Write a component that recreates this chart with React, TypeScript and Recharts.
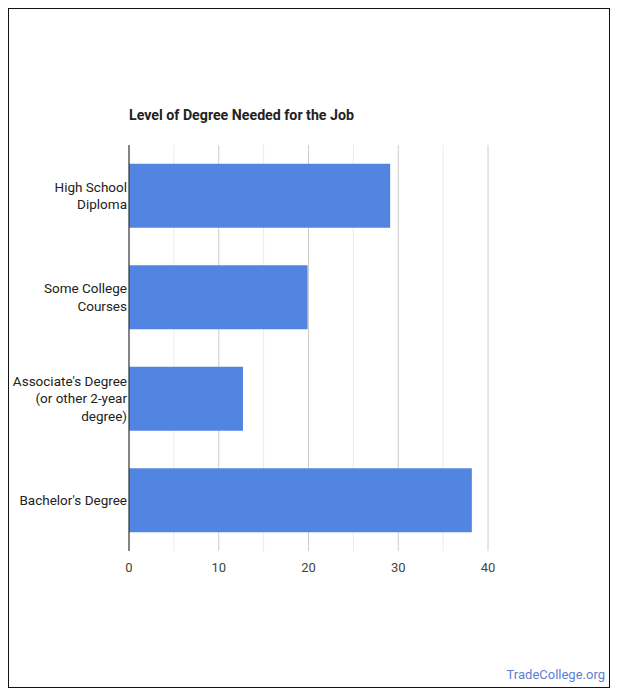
import { Bar, BarChart, CartesianGrid, XAxis, YAxis } from 'recharts';

const categories = ['High School\nDiploma', 'Some College\nCourses', "Associate's Degree\n(or other 2-year\ndegree)", "Bachelor's Degree"];
const values = [29.1, 19.9, 12.7, 38.2];
const xTicks = [0, 10, 20, 30, 40];
const minorTicks = [5, 15, 25, 35];

const data = categories.map((name, i) => ({ name, value: values[i] }));

const font = 'Roboto, Arial, sans-serif';
const xMax = xTicks[xTicks.length - 1];

function CategoryTick(props: any) {
    const { x, y, payload } = props;
    const lines = String(payload.value).split('\n');
    const lh = 17.5;
    const start = y - ((lines.length - 1) * lh) / 2;
    return (
        <text x={x + 6} y={start} textAnchor="end" fontFamily={font} fontSize={13.5} fill="#222">
            {lines.map((line, i) => (
                <tspan key={i} x={x + 6} y={start + i * lh} dy="0.35em">
                    {line}
                </tspan>
            ))}
        </text>
    );
}

// minor gridlines at the half-steps, placed from the plot offset
const minorGrid = (args: any) => {
    const off = args?.offset;
    if (!off) return [];
    return minorTicks.map((t) => off.left + (t / xMax) * off.width);
};

export default function App() {
    return (
        <div style={{ position: 'absolute', left: 0, top: 0, width: 620, height: 698, background: '#fff' }}>
            <div
                style={{
                    position: 'absolute',
                    left: 8,
                    top: 8,
                    width: 600,
                    height: 678,
                    border: '1.5px solid #111',
                }}
            />
            <div
                style={{
                    position: 'absolute',
                    left: 129,
                    top: 107,
                    fontFamily: font,
                    fontWeight: 700,
                    fontSize: 14.2,
                    color: '#222',
                }}
            >
                Level of Degree Needed for the Job
            </div>
            <div style={{ position: 'absolute', left: 0, top: 0 }}>
                <BarChart
                    width={620}
                    height={698}
                    data={data}
                    layout="vertical"
                    margin={{ top: 145, right: 132, bottom: 117, left: 0 }}
                    barCategoryGap="18.5%"
                >
                    <CartesianGrid horizontal={false} stroke="#ebebeb" verticalCoordinatesGenerator={minorGrid} />
                    <CartesianGrid horizontal={false} stroke="#cccccc" />
                    <XAxis
                        type="number"
                        domain={[0, xMax]}
                        ticks={xTicks}
                        axisLine={false}
                        tickLine={false}
                        tickMargin={6}
                        tick={{ fontFamily: font, fontSize: 13, fill: '#444' }}
                        height={30}
                    />
                    <YAxis
                        type="category"
                        dataKey="name"
                        width={129}
                        axisLine={{ stroke: '#222' }}
                        tickLine={false}
                        tick={<CategoryTick />}
                        interval={0}
                    />
                    <Bar dataKey="value" fill="#5285e2" isAnimationActive={false} />
                </BarChart>
            </div>
            <div
                style={{
                    position: 'absolute',
                    right: 15,
                    top: 667,
                    fontFamily: font,
                    fontSize: 13,
                    color: '#5b7fd6',
                }}
            >
                TradeCollege.org
            </div>
        </div>
    );
}
